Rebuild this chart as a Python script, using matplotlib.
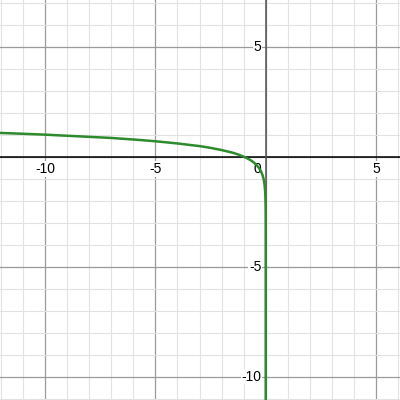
import matplotlib.pyplot as plt

# points
curve_x = [-12.1, -11, -10, -9, -8, -7, -6, -5, -4, -3.5, -3, -2.5, -2, -1.75, -1.5,
           -1.25, -1, -0.85, -0.7, -0.6, -0.5, -0.4, -0.3, -0.25, -0.2, -0.15, -0.1,
           -0.07, -0.05, -0.03, -0.02, -0.01, -0.005, -0.002, -0.001, -1e-4, -1e-5,
           -1e-6, -1e-7, -1e-8, -1e-9, -1e-10, -1e-11, -1e-12]
curve_y = [1.08, 1.04, 1.0, 0.95, 0.9, 0.85, 0.78, 0.7, 0.6, 0.54, 0.48, 0.4, 0.3,
           0.24, 0.18, 0.1, 0.0, -0.07, -0.15, -0.22, -0.3, -0.4, -0.52, -0.6, -0.7,
           -0.82, -1.0, -1.15, -1.3, -1.52, -1.7, -2.0, -2.3, -2.7, -3.0, -4.0, -5.0,
           -6.0, -7.0, -8.0, -9.0, -10.0, -11.0, -12.0]

x_ticks = [-10, -5, 5]
y_ticks = [5, -5, -10]

fig = plt.figure(figsize=(4, 4), dpi=100)
ax = fig.add_axes([0, 0, 1, 1])
ax.set_xlim(-12.04, 6.085)
ax.set_ylim(-11.06, 7.12)
for s in ax.spines.values():
    s.set_visible(False)
ax.set_xticks([])
ax.set_yticks([])

# grid
for v in range(-12, 7):
    c, w = ('#9a9a9a', 0.9) if v % 5 == 0 else ('#e2e2e2', 0.8)
    ax.axvline(v, color=c, lw=w, zorder=1)
for v in range(-11, 8):
    c, w = ('#9a9a9a', 0.9) if v % 5 == 0 else ('#e2e2e2', 0.8)
    ax.axhline(v, color=c, lw=w, zorder=1)
ax.axhline(0, color='black', lw=1.1, zorder=2)
ax.axvline(0, color='#555555', lw=1.1, zorder=2)

font = dict(family=['Liberation Sans', 'DejaVu Sans'], fontsize=10)
halo = dict(facecolor='white', edgecolor='none', pad=0.5)
for t in x_ticks:
    ax.text(t, -0.25, str(t), ha='center', va='top', bbox=halo, zorder=3, **font)
for t in y_ticks:
    ax.text(-0.2, t, str(t), ha='right', va='center', bbox=halo, zorder=3, **font)
ax.text(-0.2, -0.25, '0', ha='right', va='top', bbox=halo, zorder=3, **font)

ax.plot(curve_x, curve_y, color='#2d8a2d', lw=1.8, zorder=4, solid_capstyle='butt')

fig.savefig('out.png', dpi=100)
